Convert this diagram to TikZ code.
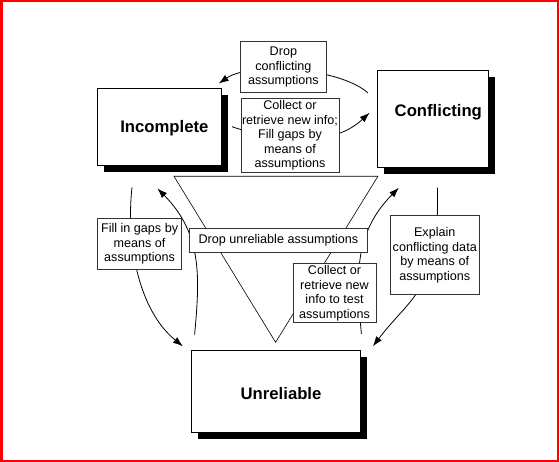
\documentclass[tikz,border=0pt]{standalone}
\usepackage{fontspec}
\setmainfont{Liberation Sans}
\usepackage{tikz}
\usetikzlibrary{arrows.meta,shadows,positioning}

\begin{document}
\begin{tikzpicture}[x=1pt, y=-1pt,
  statebox/.style={draw=black, line width=0.8pt, fill=white, inner sep=0pt,
    drop shadow={shadow xshift=6.5pt, shadow yshift=-6.5pt, fill=black, opacity=1}},
  statetext/.style={font=\fontsize{16.7}{20}\selectfont\bfseries, inner sep=0pt},
  notebox/.style={draw=black!80, line width=0.6pt, fill=white, align=center,
    inner sep=0pt, font=\fontsize{12.6}{14.5}\selectfont},
  flow/.style={line width=0.8pt, -{Latex[length=10pt,width=7pt]}}]
\useasboundingbox (0,0) rectangle (559,462);
\draw[red, line width=2.5pt] (1.25,1.25) rectangle (557.75,460.75);

% funnel behind everything
\draw[line width=0.6pt] (174,176.3) -- (377.9,176.3) -- (275.6,342.3) -- cycle;

% the three states
\node[statebox, minimum width=123.3pt, minimum height=77pt] (inc) at (159.35,127.2) {};
\node[statetext] (inc-text) at ([shift={(5,1.2)}]inc.center) {Incomplete};
\node[statebox, minimum width=111.2pt, minimum height=97pt] (con) at (432.8,118.8) {};
\node[statetext] (con-text) at ([shift={(5.5,-6.4)}]con.center) {Conflicting};
\node[statebox, minimum width=168.3pt, minimum height=81.7pt] (unr) at (275.95,391.15) {};
\node[statetext] (unr-text) at ([shift={(5.1,2.8)}]unr.center) {Unreliable};

% transitions
\draw[flow] ([shift={(-8.9,23)}]con.north west) .. controls +(-28.3,-25.3) and +(31.7,-22) .. ([shift={(-2.7,-4.7)}]inc.north east);
\draw[flow] ([shift={(10.7,-0.5)}]inc.east) .. controls +(38.3,13.3) and +(-40,37.3) .. ([shift={(-7.2,-6.1)}]con.west);
\draw[flow] ([shift={(-27.35,21.3)}]inc.south) .. controls +(-6,53) and +(-45.3,-36.7) .. ([shift={(-8.5,-3.6)}]unr.north west);
\draw[flow] ([shift={(3.2,-15.3)}]unr.north west) .. controls +(5,-55) and +(45.7,46) .. ([shift={(-2,22.3)}]inc.south);
\draw[flow] ([shift={(0.9,-16)}]unr.north east) .. controls +(-5,-54.3) and +(-46.3,46.7) .. ([shift={(22.1,20)}]con.south west);
\draw[flow] ([shift={(4.6,20)}]con.south) .. controls +(2.6,102.7) and +(39.5,-51.7) .. ([shift={(12.4,-3.6)}]unr.north east);

% labels on the transitions
\node[notebox, minimum width=85.6pt, minimum height=51.4pt] (drop-con) at (283.4,67) {Drop\\conflicting\\assumptions};
\node[notebox, minimum width=98pt, minimum height=74pt] (collect-fill) at (290,135.3) {Collect or\\retrieve new info;\\Fill gaps by\\means of\\assumptions};
\node[notebox, minimum width=83.8pt, minimum height=50.6pt] (fill-gaps) at (139.6,244) {Fill in gaps by\\means of\\assumptions};
\node[notebox, minimum width=178.3pt, minimum height=24pt] (drop-unr) at (278.45,240.3) {Drop unreliable assumptions};
\node[notebox, minimum width=83.1pt, minimum height=58.6pt] (collect-test) at (334.55,293) {Collect or\\retrieve new\\info to test\\assumptions};
\node[notebox, minimum width=88.7pt, minimum height=78.6pt] (explain) at (434.75,255) {Explain\\conflicting data\\by means of\\assumptions};
\end{tikzpicture}
\end{document}
